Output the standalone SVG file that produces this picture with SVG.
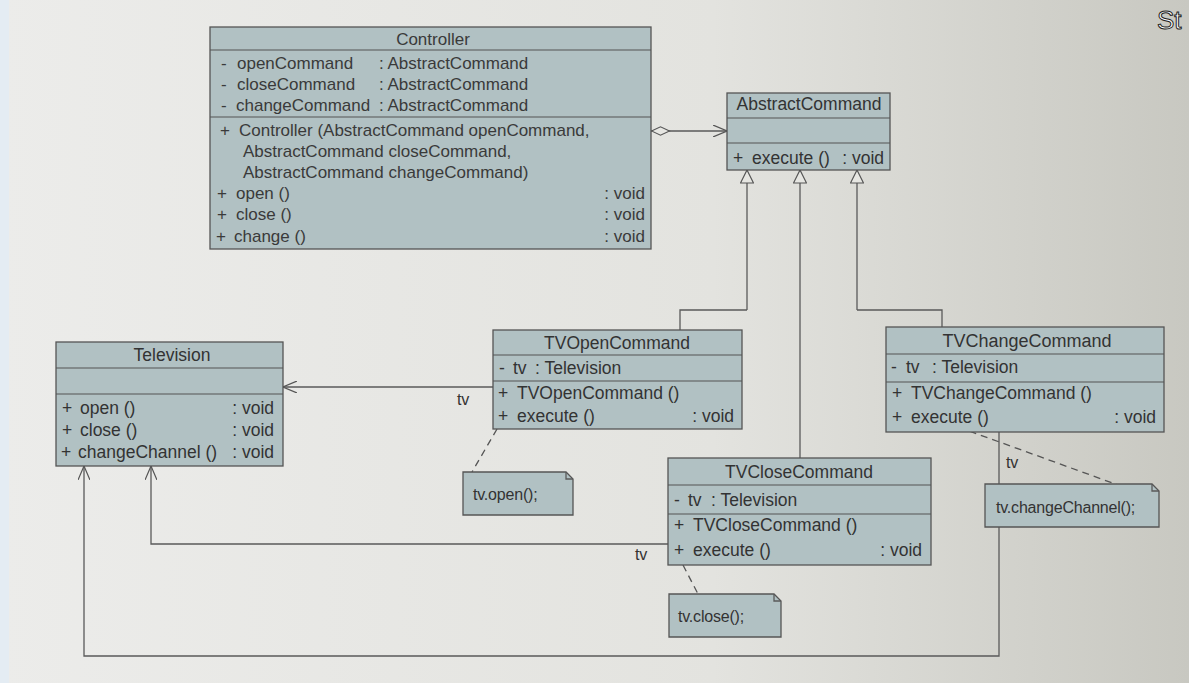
<svg xmlns="http://www.w3.org/2000/svg" width="1189" height="683" viewBox="0 0 1189 683">
<defs>
<linearGradient id="bg" x1="0" y1="0" x2="1" y2="0">
<stop offset="0" stop-color="#ececea"/>
<stop offset="0.6" stop-color="#e3e3df"/>
<stop offset="1" stop-color="#c8c8c1"/>
</linearGradient>
<marker id="open" viewBox="0 0 14 12" refX="14" refY="6" markerWidth="14" markerHeight="12" markerUnits="userSpaceOnUse" orient="auto">
<path d="M0,0 L14,6 L0,12" fill="none" stroke="#555" stroke-width="1.2"/>
</marker>
<marker id="tri" viewBox="0 0 14 14" refX="14" refY="7" markerWidth="14" markerHeight="14" markerUnits="userSpaceOnUse" orient="auto">
<path d="M1,0.5 L14,7 L1,13.5 Z" fill="#e6e6e2" stroke="#555" stroke-width="1.2"/>
</marker>
<marker id="dia" viewBox="0 0 20 10" refX="0" refY="5" markerWidth="20" markerHeight="10" markerUnits="userSpaceOnUse" orient="auto">
<path d="M0.5,5 L9.5,0.8 L18.5,5 L9.5,9.2 Z" fill="#e6e6e2" stroke="#555" stroke-width="1.1"/>
</marker>
</defs>
<style>
.box{fill:#b1c1c3;stroke:#555;stroke-width:1.3}
.div{stroke:#555;stroke-width:1.2}
.t{font-family:"Liberation Sans",Arial,sans-serif;font-size:17.5px;fill:#333}
.tc{font-family:"Liberation Sans",Arial,sans-serif;font-size:17px;fill:#3a3a3a}
.n{font-family:"Liberation Sans",Arial,sans-serif;font-size:16px;fill:#333;letter-spacing:-0.2px}
.c{text-anchor:middle}
.e{text-anchor:end}
.ln{fill:none;stroke:#5a5a5a;stroke-width:1.3}
.dash{fill:none;stroke:#555;stroke-width:1.3;stroke-dasharray:7 5}
</style>
<rect width="1189" height="683" fill="url(#bg)"/>
<rect x="0" y="0" width="9" height="683" fill="#e4ecf3"/>
<text x="1157" y="29" style="font-family:'Liberation Sans',Arial,sans-serif;font-size:26px;fill:#fff;stroke:#222;stroke-width:1">St</text>

<g id="connectors">
<path class="ln" d="M651,131 H727" marker-start="url(#dia)" marker-end="url(#open)"/>
<path class="ln" d="M747,310 H680 V330"/>
<path class="ln" d="M747,310 V170" marker-end="url(#tri)"/>
<path class="ln" d="M800,458 V170" marker-end="url(#tri)"/>
<path class="ln" d="M942,327 V310 H857"/>
<path class="ln" d="M857,310 V170" marker-end="url(#tri)"/>
<path class="ln" d="M493,387 H283" marker-end="url(#open)"/>
<text class="n" x="457" y="405">tv</text>
<path class="ln" d="M668,544 H151 V466" marker-end="url(#open)"/>
<text class="n" x="635" y="560">tv</text>
<path class="ln" d="M999,432 V656 H84 V466" marker-end="url(#open)"/>
<text class="n" x="1006" y="468">tv</text>
<path class="dash" d="M497,429 L472,472"/>
<path class="dash" d="M683,565 L698,594"/>
<path class="dash" d="M947,423 L1118,485"/>
</g>

<g id="Controller">
<rect class="box" x="210" y="27" width="441" height="222"/>
<line class="div" x1="210" y1="50" x2="651" y2="50"/>
<line class="div" x1="210" y1="117" x2="651" y2="117"/>
<text class="tc c" x="433" y="45">Controller</text>
<text class="tc" x="221" y="69">-</text><text class="tc" x="237" y="69">openCommand</text>
<text class="tc" x="379" y="69">: AbstractCommand</text>
<text class="tc" x="221" y="90">-</text><text class="tc" x="237" y="90">closeCommand</text>
<text class="tc" x="379" y="90">: AbstractCommand</text>
<text class="tc" x="221" y="111">-</text><text class="tc" x="236" y="111">changeCommand</text>
<text class="tc" x="379" y="111">: AbstractCommand</text>
<text class="tc" x="220" y="136">+</text><text class="tc" x="239" y="136">Controller (AbstractCommand openCommand,</text>
<text class="tc" x="243" y="157">AbstractCommand closeCommand,</text>
<text class="tc" x="243" y="178">AbstractCommand changeCommand)</text>
<text class="tc" x="217" y="199">+</text><text class="tc" x="236" y="199">open ()</text>
<text class="tc e" x="645" y="199">: void</text>
<text class="tc" x="217" y="220">+</text><text class="tc" x="236" y="220">close ()</text>
<text class="tc e" x="645" y="220">: void</text>
<text class="tc" x="216" y="242">+</text><text class="tc" x="234" y="242">change ()</text>
<text class="tc e" x="645" y="242">: void</text>
</g>

<g id="AbstractCommand">
<rect class="box" x="727" y="93" width="163" height="77"/>
<line class="div" x1="727" y1="118" x2="890" y2="118"/>
<line class="div" x1="727" y1="143" x2="890" y2="143"/>
<text class="t c" x="809" y="110">AbstractCommand</text>
<text class="t" x="733" y="164">+</text><text class="t" x="752" y="164">execute ()</text>
<text class="t e" x="884" y="164">: void</text>
</g>

<g id="Television">
<rect class="box" x="56" y="342" width="227" height="124"/>
<line class="div" x1="56" y1="368" x2="283" y2="368"/>
<line class="div" x1="56" y1="394" x2="283" y2="394"/>
<text class="t c" x="172" y="361">Television</text>
<text class="t" x="62" y="414">+</text><text class="t" x="80" y="414">open ()</text>
<text class="t e" x="274" y="414">: void</text>
<text class="t" x="62" y="436">+</text><text class="t" x="80" y="436">close ()</text>
<text class="t e" x="274" y="436">: void</text>
<text class="t" x="61" y="458">+</text><text class="t" x="78" y="458">changeChannel ()</text>
<text class="t e" x="274" y="458">: void</text>
</g>

<g id="TVOpenCommand">
<rect class="box" x="493" y="330" width="249" height="99"/>
<line class="div" x1="493" y1="355" x2="742" y2="355"/>
<line class="div" x1="493" y1="381" x2="742" y2="381"/>
<text class="t c" x="617" y="349">TVOpenCommand</text>
<text class="t" x="499" y="374">-</text><text class="t" x="513" y="374">tv</text><text class="t" x="535" y="374">: Television</text>
<text class="t" x="498" y="399">+</text><text class="t" x="517" y="399">TVOpenCommand ()</text>
<text class="t" x="498" y="422">+</text><text class="t" x="517" y="422">execute ()</text>
<text class="t e" x="734" y="422">: void</text>
</g>

<g id="TVCloseCommand">
<rect class="box" x="668" y="458" width="263" height="107"/>
<line class="div" x1="668" y1="485" x2="931" y2="485"/>
<line class="div" x1="668" y1="514" x2="931" y2="514"/>
<text class="t c" x="799" y="478">TVCloseCommand</text>
<text class="t" x="674" y="506">-</text><text class="t" x="688" y="506">tv</text><text class="t" x="711" y="506">: Television</text>
<text class="t" x="674" y="531">+</text><text class="t" x="693" y="531">TVCloseCommand ()</text>
<text class="t" x="674" y="556">+</text><text class="t" x="693" y="556">execute ()</text>
<text class="t e" x="922" y="556">: void</text>
</g>

<g id="TVChangeCommand">
<rect class="box" x="886" y="327" width="278" height="105"/>
<line class="div" x1="886" y1="354" x2="1164" y2="354"/>
<line class="div" x1="886" y1="382" x2="1164" y2="382"/>
<text class="t c" x="1027" y="347" style="font-size:18px">TVChangeCommand</text>
<text class="t" x="891" y="373">-</text><text class="t" x="906" y="373">tv</text><text class="t" x="932" y="373">: Television</text>
<text class="t" x="892" y="399">+</text><text class="t" x="911" y="399">TVChangeCommand ()</text>
<text class="t" x="892" y="423">+</text><text class="t" x="911" y="423">execute ()</text>
<text class="t e" x="1156" y="423">: void</text>
</g>

<g id="note-open">
<path class="box" d="M463,472 H566 L573,479 V515 H463 Z"/>
<path class="ln" d="M566,472 V479 H573"/>
<text class="n" x="473" y="500">tv.open();</text>
</g>

<g id="note-close">
<path class="box" d="M669,594 H774 L781,601 V637 H669 Z"/>
<path class="ln" d="M774,594 V601 H781"/>
<text class="n" x="678" y="622">tv.close();</text>
</g>

<g id="note-change">
<path class="box" d="M985,484 H1152 L1159,491 V527 H985 Z"/>
<path class="ln" d="M1152,484 V491 H1159"/>
<text class="n" x="996" y="513">tv.changeChannel();</text>
</g>
</svg>
